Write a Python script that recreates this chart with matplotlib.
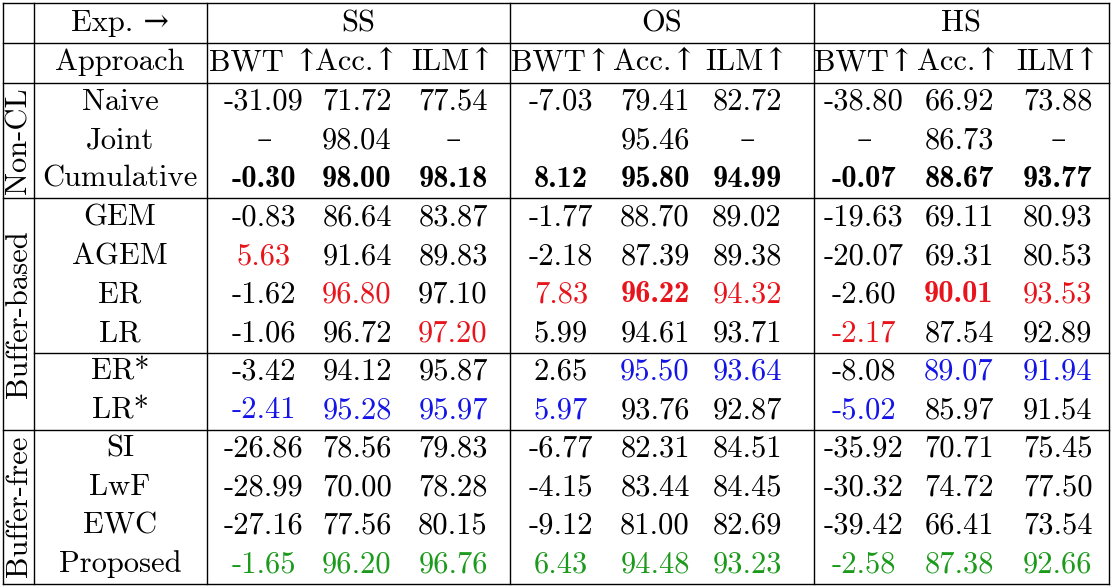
import matplotlib.pyplot as plt

plt.rcParams['mathtext.fontset'] = 'cm'
plt.rcParams['font.family'] = ['cmr10', 'DejaVu Serif']

groups = ["SS", "OS", "HS"]
metrics = ["BWT", "Acc.", "ILM"]
approaches = ["Naive", "Joint", "Cumulative", "GEM", "AGEM", "ER", "LR",
              "ER*", "LR*", "SI", "LwF", "EWC", "Proposed"]
values = [
    ["-31.09", "71.72", "77.54", "-7.03", "79.41", "82.72", "-38.80", "66.92", "73.88"],
    ["–", "98.04", "–", "", "95.46", "–", "–", "86.73", "–"],
    ["-0.30", "98.00", "98.18", "8.12", "95.80", "94.99", "-0.07", "88.67", "93.77"],
    ["-0.83", "86.64", "83.87", "-1.77", "88.70", "89.02", "-19.63", "69.11", "80.93"],
    ["5.63", "91.64", "89.83", "-2.18", "87.39", "89.38", "-20.07", "69.31", "80.53"],
    ["-1.62", "96.80", "97.10", "7.83", "96.22", "94.32", "-2.60", "90.01", "93.53"],
    ["-1.06", "96.72", "97.20", "5.99", "94.61", "93.71", "-2.17", "87.54", "92.89"],
    ["-3.42", "94.12", "95.87", "2.65", "95.50", "93.64", "-8.08", "89.07", "91.94"],
    ["-2.41", "95.28", "95.97", "5.97", "93.76", "92.87", "-5.02", "85.97", "91.54"],
    ["-26.86", "78.56", "79.83", "-6.77", "82.31", "84.51", "-35.92", "70.71", "75.45"],
    ["-28.99", "70.00", "78.28", "-4.15", "83.44", "84.45", "-30.32", "74.72", "77.50"],
    ["-27.16", "77.56", "80.15", "-9.12", "81.00", "82.69", "-39.42", "66.41", "73.54"],
    ["-1.65", "96.20", "96.76", "6.43", "94.48", "93.23", "-2.58", "87.38", "92.66"],
]
# colour codes: k black, r red, b blue, g green
colors = [
    "kkkkkkkkk", "kkkkkkkkk", "kkkkkkkkk", "kkkkkkkkk",
    "rkkkkkkkk", "krkrrrkrr", "kkrkkkrkk", "kkkkbbkbb",
    "bbbbkkbkk", "kkkkkkkkk", "kkkkkkkkk", "kkkkkkkkk", "ggggggggg",
]
bold = {(2, c) for c in range(9)} | {(5, 4), (5, 7)}
row_groups = [("Non-CL", 0, 3), ("Buffer-based", 3, 9), ("Buffer-free", 9, 13)]

cmap = {"k": "black", "r": "#e8141c", "b": "#1414e6", "g": "#1c9a1c"}

fig = plt.figure(figsize=(11.13, 5.86), dpi=100)
ax = fig.add_axes([0, 0, 1, 1])
ax.set_xlim(0, 1113)
ax.set_ylim(523, 0)
ax.axis("off")

fs = 22
x_lines = [3, 34, 207, 510, 814, 1109]
y_top, y_h1, y_h2 = 3, 38, 74
row_h = (521 - 74) / 13
col_x = [264, 357, 453, 561, 655, 747, 864, 959, 1058]
lw = 1.0

def ry(i):
    return y_h2 + row_h * (i + 0.5)

# horizontal rules
for y in [y_top, y_h1, y_h2, y_h2 + 3 * row_h, y_h2 + 9 * row_h, 521]:
    ax.plot([3, 1109], [y, y], color="black", lw=lw)
ax.plot([34, 1109], [y_h2 + 7 * row_h] * 2, color="black", lw=lw)
for x in x_lines:
    ax.plot([x, x], [y_top, 521], color="black", lw=lw)

# header
ax.text(120, 21, "Exp. →", ha="center", va="center", fontsize=fs)
ax.text(120, 56, "Approach", ha="center", va="center", fontsize=fs)
for g, name in enumerate(groups):
    ax.text((x_lines[2 + g] + x_lines[3 + g]) / 2, 21, name, ha="center", va="center", fontsize=fs)
    for m, met in enumerate(metrics):
        sep = " ↑" if (g == 0 and m == 0) else "↑"
        ax.text(col_x[3 * g + m], 56, met + sep, ha="center", va="center", fontsize=fs)

for name, a, b in row_groups:
    yc = y_h2 + row_h * (a + b) / 2
    ax.text(19, yc, name, ha="center", va="center", rotation=90, fontsize=fs)

for i, name in enumerate(approaches):
    ax.text(120, ry(i), name, ha="center", va="center", fontsize=fs)
    for c, v in enumerate(values[i]):
        b = (i, c) in bold
        ax.text(col_x[c], ry(i), v, ha="center", va="center", fontsize=fs,
                color=cmap[colors[i][c]],
                family=["cmb10", "DejaVu Serif"] if b else ["cmr10", "DejaVu Serif"])

fig.savefig("out.png", dpi=100)
